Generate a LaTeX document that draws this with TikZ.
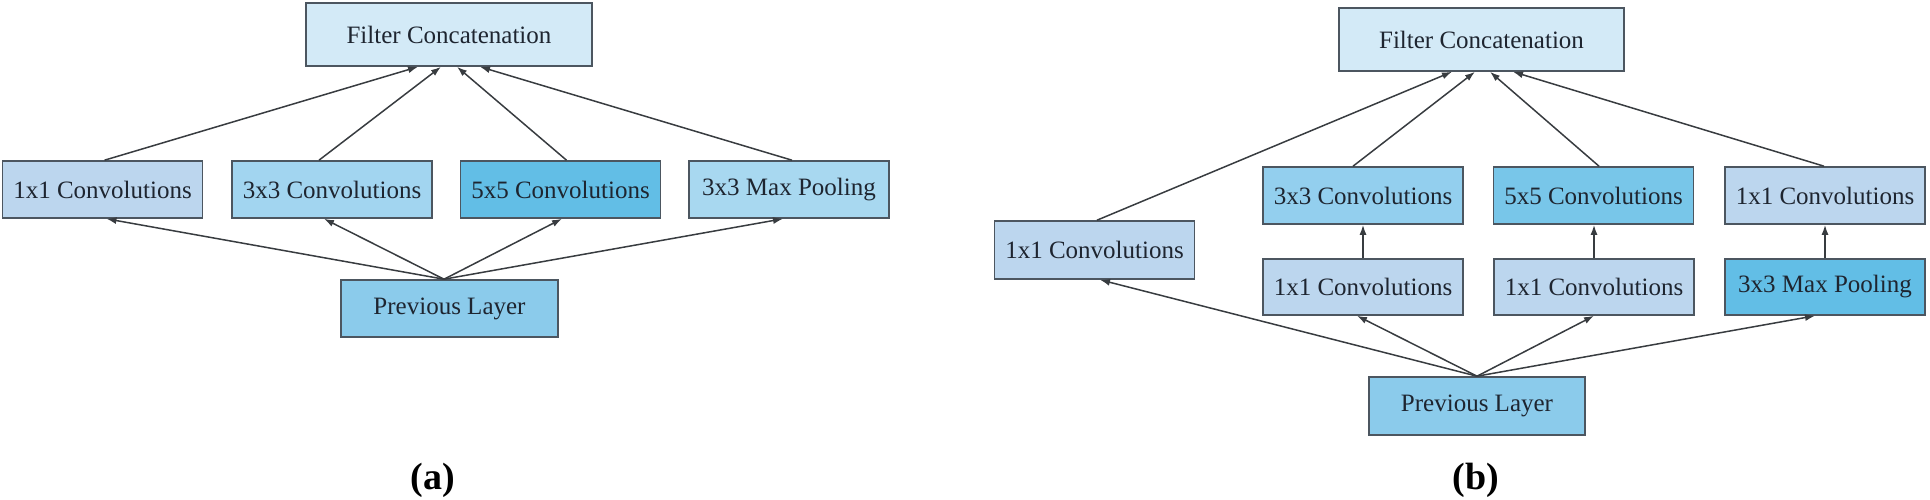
\documentclass[tikz,border=0pt]{standalone}
\usepackage{fontspec}
\setmainfont{Liberation Serif}
\usetikzlibrary{arrows.meta,positioning}
\definecolor{cFilter}{HTML}{D3EAF7}
\definecolor{cOne}{HTML}{BCD6EE}
\definecolor{cThreeA}{HTML}{A2D5F0}
\definecolor{cFiveA}{HTML}{62BEE6}
\definecolor{cPoolA}{HTML}{A8D8F0}
\definecolor{cPrev}{HTML}{8BCBEB}
\definecolor{cThreeB}{HTML}{93CFEE}
\definecolor{cFiveB}{HTML}{78C6E9}
\definecolor{cPoolB}{HTML}{62BEE6}
\definecolor{cBorder}{HTML}{4C5660}
\definecolor{cText}{HTML}{1E2530}
\definecolor{cArrow}{HTML}{383C40}
\tikzset{
  layerbox/.style={rectangle, draw=cBorder, line width=1.6pt, text=cText,
    font=\fontsize{25}{30}\selectfont, inner sep=0pt,
    minimum width=200pt, minimum height=57pt},
  conn/.style={draw=cArrow, line width=1.5pt, -{Latex[length=10pt,width=7pt]}},
  sublabel/.style={font=\fontsize{38}{44}\selectfont\bfseries, text=black, inner sep=0pt}
}
\begin{document}
\begin{tikzpicture}[x=1pt,y=-1pt]
\useasboundingbox (0,0) rectangle (1930,500);
% ---------- (a) ----------
\node[layerbox, fill=cFilter, minimum width=286pt, minimum height=63pt] (fa) at (449,34.5) {Filter Concatenation};
\node[layerbox, fill=cOne] (c1a) at (102.5,189.5) {1x1 Convolutions};
\node[layerbox, fill=cThreeA] (c3a) at (332,189.5) {3x3 Convolutions};
\node[layerbox, fill=cFiveA] (c5a) at (560.5,189.5) {5x5 Convolutions};
\node[layerbox, fill=cPoolA] (mpa) at (789,189.5) {3x3 Max Pooling};
\node[layerbox, fill=cPrev, minimum width=217pt] (pa) at (449.5,308.5) {Previous Layer};
\node[sublabel] (la) at (433,480) {(a)};
\coordinate (pat) at ([xshift=-5.5pt]pa.north);
\draw[conn] ([xshift=2pt]c1a.north) -- ([xshift=-31pt]fa.south);
\draw[conn] ([xshift=-13pt]c3a.north) -- ([xshift=-8pt]fa.south);
\draw[conn] ([xshift=6pt]c5a.north) -- ([xshift=8pt]fa.south);
\draw[conn] ([xshift=3pt]mpa.north) -- ([xshift=31pt]fa.south);
\draw[conn] (pat) -- ([xshift=4pt]c1a.south);
\draw[conn] (pat) -- ([xshift=-8pt]c3a.south);
\draw[conn] (pat) -- ([xshift=1.5pt]c5a.south);
\draw[conn] (pat) -- ([xshift=-6pt]mpa.south);
% ---------- (b) ----------
\node[layerbox, fill=cFilter, minimum width=285pt, minimum height=63pt] (fb) at (1481.5,39.5) {Filter Concatenation};
\node[layerbox, fill=cOne, minimum height=58pt] (c1b) at (1094.5,250) {1x1 Convolutions};
\node[layerbox, fill=cThreeB] (c3b) at (1363,195.5) {3x3 Convolutions};
\node[layerbox, fill=cFiveB] (c5b) at (1593.5,195.5) {5x5 Convolutions};
\node[layerbox, fill=cOne] (c1c) at (1825,195.5) {1x1 Convolutions};
\node[layerbox, fill=cOne, minimum height=56pt] (r1b) at (1363,287) {1x1 Convolutions};
\node[layerbox, fill=cOne, minimum height=56pt] (r1c) at (1594,287) {1x1 Convolutions};
\node[layerbox, fill=cPoolB, minimum height=56pt] (mpb) at (1825,287) {3x3 Max Pooling};
\node[layerbox, fill=cPrev, minimum width=216pt, minimum height=58pt] (pb) at (1477,406) {Previous Layer};
\node[sublabel] (lb) at (1476,480) {(b)};
\coordinate (pbt) at (pb.north);
\draw[conn] ([xshift=2.5pt]c1b.north) -- ([xshift=-29.5pt]fb.south);
\draw[conn] ([xshift=-10pt]c3b.north) -- ([xshift=-6.5pt]fb.south);
\draw[conn] ([xshift=5.5pt]c5b.north) -- ([xshift=8.5pt]fb.south);
\draw[conn] ([xshift=-1pt]c1c.north) -- ([xshift=31.5pt]fb.south);
\draw[conn] (r1b.north) -- (c3b.south);
\draw[conn] (r1c.north) -- ([xshift=0.5pt]c5b.south);
\draw[conn] (mpb.north) -- (c1c.south);
\draw[conn] (pbt) -- ([xshift=5.5pt]c1b.south);
\draw[conn] (pbt) -- ([xshift=-6pt]r1b.south);
\draw[conn] (pbt) -- (r1c.south);
\draw[conn] (pbt) -- ([xshift=-10pt]mpb.south);
\end{tikzpicture}
\end{document}
